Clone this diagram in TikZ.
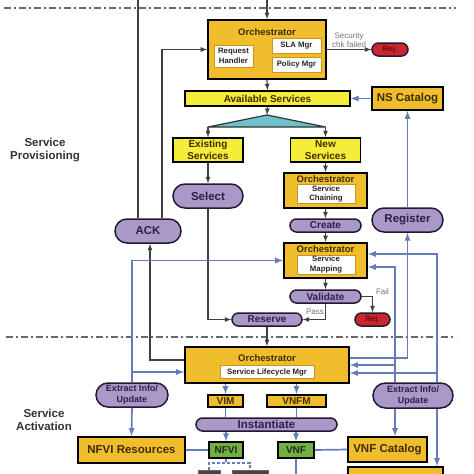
\documentclass[tikz,border=0pt]{standalone}
\usepackage{fontspec}
\setmainfont{Liberation Sans}
\usetikzlibrary{calc,shapes.misc}

% colours
\definecolor{goldfill}{RGB}{240,190,45}
\definecolor{yellowfill}{RGB}{246,236,58}
\definecolor{innerline}{RGB}{200,150,30}
\definecolor{pillfill}{RGB}{170,152,200}
\definecolor{pillline}{RGB}{35,25,50}
\definecolor{pilltext}{RGB}{45,30,75}
\definecolor{rejfill}{RGB}{200,40,45}
\definecolor{rejtext}{RGB}{105,10,15}
\definecolor{tealfill}{RGB}{110,192,205}
\definecolor{linkblue}{RGB}{100,125,185}
\definecolor{greenfill}{RGB}{112,176,62}
\definecolor{boxtext}{RGB}{60,45,5}
\definecolor{sepgray}{RGB}{105,105,105}
\definecolor{darkfill}{RGB}{70,70,70}

% font sizes
\newcommand{\lblbig}{\fontsize{11.5}{13.5}\selectfont\bfseries}
\newcommand{\lblmid}{\fontsize{10}{12}\selectfont\bfseries}
\newcommand{\lblorch}{\fontsize{9.5}{11}\selectfont\bfseries}
\newcommand{\lblext}{\fontsize{9}{11}\selectfont\bfseries}
\newcommand{\lblsmall}{\fontsize{7.8}{9.5}\selectfont\bfseries}
\newcommand{\lblnote}{\fontsize{8}{9}\selectfont}

\begin{document}
\begin{tikzpicture}[x=1pt,y=-1pt]

	% INPUTS:
	\newcommand{\midcol}{267};		% main column
	\newcommand{\newcol}{325.5};	% new services column
	\newcommand{\regcol}{407.5};	% register / NS catalog column

	% styles
	\tikzstyle{goldbox}=[draw=black,line width=1.8pt,fill=goldfill,text=boxtext,inner sep=0pt,align=center];
	\tikzstyle{yellowbox}=[draw=black,line width=1.5pt,fill=yellowfill,text=boxtext,inner sep=0pt,align=center];
	\tikzstyle{whitebox}=[draw=innerline,line width=0.7pt,fill=white,text=black!85,inner sep=0pt,align=center,font=\lblsmall];
	\tikzstyle{orchtitle}=[text=boxtext,font=\lblorch];
	\tikzstyle{pill}=[rounded rectangle,draw=pillline,line width=1.5pt,fill=pillfill,text=pilltext,inner sep=0pt,align=center];
	\tikzstyle{rejpill}=[rounded rectangle,draw=pillline,line width=1.5pt,fill=rejfill,text=rejtext,inner sep=0pt,font=\lblsmall,minimum height=13pt];
	\tikzstyle{greenbox}=[draw=black,line width=1.5pt,fill=greenfill,text=black!85,inner sep=0pt,font=\lblmid];
	\tikzstyle{darkbox}=[draw=black!60,fill=darkfill,inner sep=0pt];
	\tikzstyle{link}=[draw=black!75,line width=1.2pt,-latex];
	\tikzstyle{plainlink}=[draw=black!75,line width=1.2pt];
	\tikzstyle{bluelink}=[draw=linkblue,line width=1.7pt,-latex];
	\tikzstyle{blueline}=[draw=linkblue,line width=1.7pt];
	\tikzstyle{bluedash}=[draw=linkblue,line width=1.2pt,densely dashed];
	\tikzstyle{note}=[text=black!55,font=\lblnote,inner sep=1pt,align=center];
	\tikzstyle{sectlabel}=[text=black!80,font=\lblbig,align=center];
	\tikzstyle{separator}=[draw=sepgray,line width=1.4pt,dash pattern=on 7pt off 3pt on 2pt off 3pt];

	\clip (0,0) rectangle (474,474);

	% phase separators and phase names
	\draw[separator] (4,8) -- (456,8);
	\draw[separator] (6,337) -- (456,337);
	\node[sectlabel] (provLbl) at (45,150) {Service\\Provisioning};
	\node[sectlabel] (actLbl) at (44,420) {Service\\Activation};

	% top orchestrator with its managers
	\node[goldbox,minimum width=118pt,minimum height=59pt] (orchTop) at (\midcol,49.5) {};
	\node[orchtitle] (orchTopT) at (\midcol,32) {Orchestrator};
	\node[whitebox,minimum width=39pt,minimum height=22pt] (reqH) at (233.5,56) {Request\\Handler};
	\node[whitebox,minimum width=49pt,minimum height=15pt] (slaM) at (296.5,45.5) {SLA Mgr};
	\node[whitebox,minimum width=49pt,minimum height=15pt] (polM) at (296.5,64.5) {Policy Mgr};
	\draw[innerline,line width=0.9pt] ($(slaM.west)+(0,4)$) -- ($(slaM.west)+(0,4)$ -| reqH.east);
	\draw[innerline,line width=0.9pt] ($(polM.west)+(0,-1.5)$) -- ($(polM.west)+(0,-1.5)$ -| reqH.east);
	\node[rejpill,minimum width=36pt] (rejTop) at (390,49.5) {Rej.};

	% catalogue of services and the split
	\node[yellowbox,font=\lblmid,minimum width=165pt,minimum height=15pt] (availS) at (267.5,98.5) {Available Services};
	\node[goldbox,font=\lblbig,minimum width=71pt,minimum height=23pt] (nsCat) at (\regcol,98.5) {NS Catalog};
	\coordinate (triTop) at (\midcol,115);
	\coordinate (triL) at (208,127);
	\coordinate (triR) at (\newcol,127);
	\filldraw[fill=tealfill,draw=black!80,line width=1.2pt,line join=round] (triTop) -- (triR) -- (triL) -- cycle;
	\node[yellowbox,font=\lblmid,minimum width=70pt,minimum height=24pt] (existS) at (208,150) {Existing\\Services};
	\node[yellowbox,font=\lblmid,minimum width=70pt,minimum height=24pt] (newS) at (\newcol,150) {New\\Services};
	\node[pill,font=\lblbig,minimum width=70pt,minimum height=24pt] (selectN) at (208,196) {Select};

	% chaining and mapping
	\node[goldbox,minimum width=83pt,minimum height=35pt] (orchChain) at (\newcol,190.5) {};
	\node[orchtitle] (orchChainT) at (\newcol,179) {Orchestrator};
	\node[whitebox,minimum width=58pt,minimum height=19pt] (chainIn) at (326,194) {Service\\Chaining};
	\node[pill,font=\lblmid,minimum width=71pt,minimum height=13pt] (createN) at (\newcol,225.5) {Create};
	\node[goldbox,minimum width=83pt,minimum height=35pt] (orchMap) at (\newcol,260.5) {};
	\node[orchtitle] (orchMapT) at (\newcol,249) {Orchestrator};
	\node[whitebox,minimum width=58pt,minimum height=19pt] (mapIn) at (326,264.5) {Service\\Mapping};
	\node[pill,font=\lblmid,minimum width=71pt,minimum height=13pt] (validN) at (\newcol,296.5) {Validate};
	\node[pill,font=\lblmid,minimum width=70pt,minimum height=13pt] (reserveN) at (\midcol,319.5) {Reserve};
	\node[rejpill,minimum width=35pt] (rejMid) at (372.5,319.5) {Rej.};
	\node[pill,font=\lblbig,minimum width=71pt,minimum height=24pt] (registerN) at (\regcol,220) {Register};
	\node[pill,font=\lblbig,minimum width=66pt,minimum height=24pt] (ackN) at (148,231) {ACK};

	% activation
	\node[goldbox,minimum width=164pt,minimum height=36pt] (orchLife) at (\midcol,365) {};
	\node[orchtitle] (orchLifeT) at (\midcol,358) {Orchestrator};
	\node[whitebox,minimum width=94pt,minimum height=13pt] (lifeIn) at (\midcol,372) {Service Lifecycle Mgr};
	\node[goldbox,font=\lblmid,minimum width=35pt,minimum height=12pt] (vimN) at (225.5,401) {VIM};
	\node[goldbox,font=\lblmid,minimum width=59pt,minimum height=12pt] (vnfmN) at (296.5,401) {VNFM};
	\node[pill,font=\lblbig,minimum width=141pt,minimum height=13pt] (instN) at (266.5,424.5) {Instantiate};
	\node[greenbox,minimum width=34pt,minimum height=16pt] (nfviN) at (226,450) {NFVI};
	\node[greenbox,minimum width=36pt,minimum height=16pt] (vnfN) at (296,450) {VNF};
	\node[goldbox,font=\lblbig,minimum width=107pt,minimum height=26pt] (nfviRes) at (131.5,450) {NFVI Resources};
	\node[goldbox,font=\lblbig,minimum width=79pt,minimum height=25pt] (vnfCat) at (387.5,449.5) {VNF Catalog};
	\node[goldbox,minimum width=95pt,minimum height=18pt] (botBox) at (395.5,476) {};
	\node[pill,font=\lblext,minimum width=72pt,minimum height=24pt] (extL) at (132,395) {Extract Info/\\Update};
	\node[pill,font=\lblext,minimum width=80pt,minimum height=25pt] (extR) at (413,395.5) {Extract Info/\\Update};
	\node[darkbox,minimum width=22pt,minimum height=16pt] (nfviSubA) at (209,478) {};
	\node[darkbox,minimum width=36pt,minimum height=16pt] (nfviSubB) at (250,478) {};

	% control flow (black)
	\coordinate (topIn) at (\midcol,0);
	\coordinate (ackUp) at (138,0);
	\draw[link] (topIn) -- (orchTop.north);
	\draw[link] (orchTop.east |- rejTop) -- (rejTop.west) node[midway,above,note] {Security\\chk failed};
	\draw[link] (orchTop.south) -- (availS.north);
	\draw[link] (availS.south) -- (triTop);
	\draw[link] (triL) -- (existS.north);
	\draw[link] (triR) -- (newS.north);
	\draw[link] (existS.south) -- (selectN.north);
	\draw[link] (selectN.south) |- (reserveN.west);
	\draw[link] (newS.south) -- (orchChain.north);
	\draw[link] (orchChain.south) -- (createN.north);
	\draw[link] (createN.south) -- (orchMap.north);
	\draw[link] (orchMap.south) -- (validN.north);
	\draw[link] (validN.south) |- (reserveN.east) node[pos=0.25,left,note] {Pass};
	\draw[link] (validN.east) -| (rejMid.north) node[pos=0.5,anchor=south west,note,xshift=2pt] {Fail};
	\draw[link] (reserveN.south) -- (orchLife.north);
	\draw[link] ($(orchLife.west)+(0,-5)$) -| ($(ackN.south)+(2,0)$);
	\draw[link] ($(ackN.north)+(14,0)$) |- (orchTop.west);
	\draw[plainlink] ($(ackN.north)+(-10,0)$) -- (ackUp);

	% resource flow (blue)
	\coordinate (xA) at (395,0);
	\coordinate (xB) at (437,0);
	\coordinate (lifeR3) at ($(orchLife.east)+(0,8)$);
	\coordinate (lifeL3) at ($(orchLife.west)+(0,7)$);
	\coordinate (vnfDown) at (296,474);
	\coordinate (brL) at (209,463);
	\draw[bluelink] (nsCat.west) -- (availS.east);
	\draw[bluelink] (registerN.north) -- (nsCat.south);
	\draw[bluelink] ($(orchLife.east)+(0,-7)$) -| (registerN.south);
	\draw[bluelink] (extR.north -| xA) |- ($(orchMap.east)+(0,6.5)$);
	\draw[bluelink] (orchLife.east -| xA) -- (orchLife.east);
	\draw[bluelink] (extR.north -| xB) |- ($(orchMap.east)+(0,-6.5)$);
	\draw[bluelink] (lifeR3 -| xB) -- (lifeR3);
	\draw[bluelink] (extR.south -| xB) -- (botBox.north -| xB);
	\draw[bluelink] (extR.south -| xA) -- (vnfCat.north -| xA);
	\draw[bluelink] (extL.north) |- (orchMap.west);
	\draw[bluelink] (lifeL3 -| extL.north) -- (lifeL3);
	\draw[bluelink] (extL.south) -- (nfviRes.north);
	\draw[bluelink] (orchLife.south -| vimN) -- (vimN.north);
	\draw[bluelink] (orchLife.south -| vnfmN) -- (vnfmN.north);
	\draw[blueline] (vimN.south) -- (instN.north -| vimN);
	\draw[blueline] (vnfmN.south) -- (instN.north -| vnfmN);
	\draw[bluelink] (instN.south -| nfviN) -- (nfviN.north);
	\draw[bluelink] (instN.south -| vnfN) -- (vnfN.north);
	\draw[blueline] (nfviRes.east) -- (nfviN.west);
	\draw[blueline] (vnfN.east) -- (vnfCat.west);
	\draw[blueline] (vnfN.south) -- (vnfDown);
	\draw[bluedash] (nfviN.south) -- (nfviN.south |- brL);
	\draw[bluedash] (nfviSubA.north) -- (nfviSubA.north |- brL) -- (nfviSubB.north |- brL) -- (nfviSubB.north);

\end{tikzpicture}
\end{document}
